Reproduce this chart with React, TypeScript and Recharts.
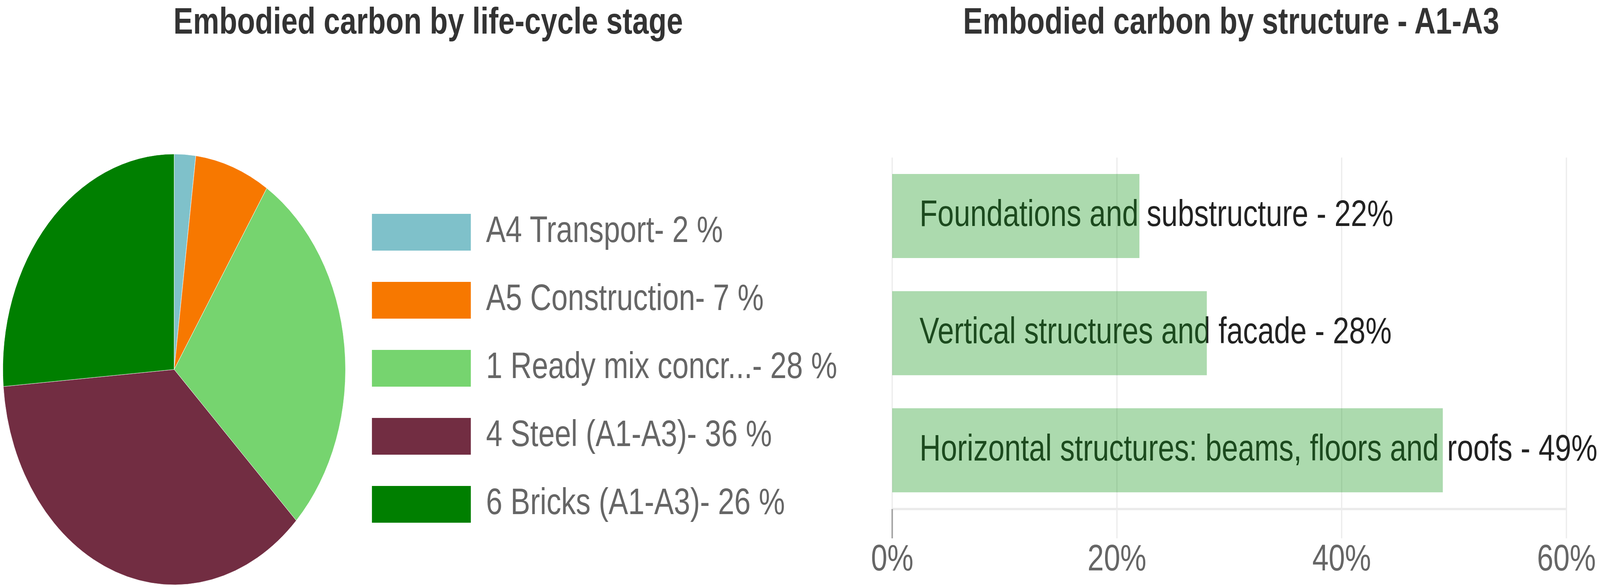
import { Bar, BarChart, CartesianGrid, Cell, Legend, Pie, PieChart, XAxis, YAxis } from "recharts";

const stageNames = [
  "A4 Transport",
  "A5 Construction",
  "1 Ready mix concr...",
  "4 Steel (A1-A3)",
  "6 Bricks (A1-A3)",
];
const stageShares = [2, 7, 28, 36, 26];
const stageColors = ["#7fc1ca", "#f77800", "#76d46f", "#722d42", "#007f00"];

const structureNames = [
  "Foundations and substructure",
  "Vertical structures and facade",
  "Horizontal structures: beams, floors and roofs",
];
const structureShares = [22, 28, 49];
const axisTicks = [0, 20, 40, 60];

const stageData = stageNames.map((name, i) => ({ name, value: stageShares[i] }));
const structureData = structureNames.map((name, i) => ({ name, value: structureShares[i] }));

const FONT = "'Liberation Sans', Arial, sans-serif";
const FS = 94.5;
const W = 5145;
const H = 1504;

function StageLegend() {
  return (
    <svg width={1500} height={1000} style={{ overflow: "visible" }}>
      <g transform="translate(0, 40)">
        {stageNames.map((name, i) => (
          <g key={name}>
            <rect x={0} y={i * 174} width={318} height={94} fill={stageColors[i]} />
            <text x={367} y={i * 174 + 72} fontSize={FS} fontFamily={FONT} fill="#666">
              {`${name}- ${stageShares[i]} %`}
            </text>
          </g>
        ))}
      </g>
    </svg>
  );
}

// text drawn as a bar shape so the translucent bar can sit on top of it
function StructureLabel(props: any) {
  const { x, y, height, index } = props;
  const name = props.payload?.name ?? structureNames[index];
  const value = props.payload?.value ?? structureShares[index];
  return (
    <text x={x + 88} y={y + height / 2 + 26} fontSize={FS} fontFamily={FONT} fill="#222">
      {`${name} - ${value}%`}
    </text>
  );
}

function AxisTick(props: any) {
  const { x, y, payload } = props;
  return (
    <g>
      <line
        x1={x}
        x2={x}
        y1={y}
        y2={y + 75}
        stroke={payload.value === 0 ? "#a6a6a6" : "#ececec"}
        strokeWidth={payload.value === 0 ? 5 : 4}
      />
      <text x={x} y={y + 157} textAnchor="middle" fontSize={FS} fontFamily={FONT} fill="#666">
        {`${payload.value}%`}
      </text>
    </g>
  );
}

export default function App() {
  // the window may be narrower than the picture; squeeze the layout to fit it
  const viewW = Math.min(window.innerWidth || W, W);
  const sx = viewW / W;
  return (
    <div
      style={{
        position: "absolute",
        left: 0,
        top: 0,
        width: viewW,
        height: H,
        background: "#fff",
        overflow: "hidden",
      }}
    >
      <div
        style={{
          position: "absolute",
          left: 0,
          top: 0,
          width: W,
          height: H,
          transform: `scale(${sx}, 1)`,
          transformOrigin: "0 0",
        }}
      >
        <div style={{ position: "absolute", left: 0, top: 0 }}>
          <PieChart width={2700} height={H} margin={{ top: 0, right: 0, bottom: 0, left: 0 }}>
            <Pie
              data={stageData}
              dataKey="value"
              nameKey="name"
              cx={560}
              cy={945}
              outerRadius={551}
              startAngle={90}
              endAngle={-270}
              stroke="#fff"
              strokeWidth={1}
              isAnimationActive={false}
            >
              {stageData.map((d, i) => (
                <Cell key={d.name} fill={stageColors[i]} />
              ))}
            </Pie>
            <Legend
              layout="vertical"
              align="right"
              verticalAlign="middle"
              content={() => <StageLegend />}
              wrapperStyle={{ left: 1196, top: 507, width: 1500, height: 1000 }}
            />
          </PieChart>
        </div>

        <div style={{ position: "absolute", left: 2700, top: 0 }}>
          <BarChart
            width={2445}
            height={H}
            data={structureData}
            layout="vertical"
            margin={{ top: 403, right: 108, bottom: 102, left: 169 }}
            barGap={-215}
          >
            <CartesianGrid horizontal={false} stroke="#ececec" strokeWidth={4} />
            <XAxis
              type="number"
              domain={[0, 60]}
              ticks={axisTicks}
              interval={0}
              height={100}
              tickSize={0}
              tickMargin={0}
              tickLine={false}
              axisLine={{ stroke: "#ebebeb", strokeWidth: 6 }}
              tick={<AxisTick />}
            />
            <YAxis
              type="category"
              dataKey="name"
              width={0}
              tick={false}
              tickLine={false}
              axisLine={{ stroke: "#a6a6a6", strokeWidth: 5 }}
            />
            <Bar dataKey="value" barSize={215} shape={StructureLabel} isAnimationActive={false} />
            <Bar
              dataKey="value"
              barSize={215}
              fill="#109618"
              fillOpacity={0.35}
              isAnimationActive={false}
            />
          </BarChart>
        </div>

        <svg
          width={W}
          height={H}
          style={{ position: "absolute", left: 0, top: 0, pointerEvents: "none" }}
        >
          <text x={1377} y={86} textAnchor="middle" fontSize={FS} fontWeight="bold" fontFamily={FONT} fill="#333">
            Embodied carbon by life-cycle stage
          </text>
          <text x={3959} y={86} textAnchor="middle" fontSize={FS} fontWeight="bold" fontFamily={FONT} fill="#333">
            Embodied carbon by structure - A1-A3
          </text>
        </svg>
      </div>
    </div>
  );
}
